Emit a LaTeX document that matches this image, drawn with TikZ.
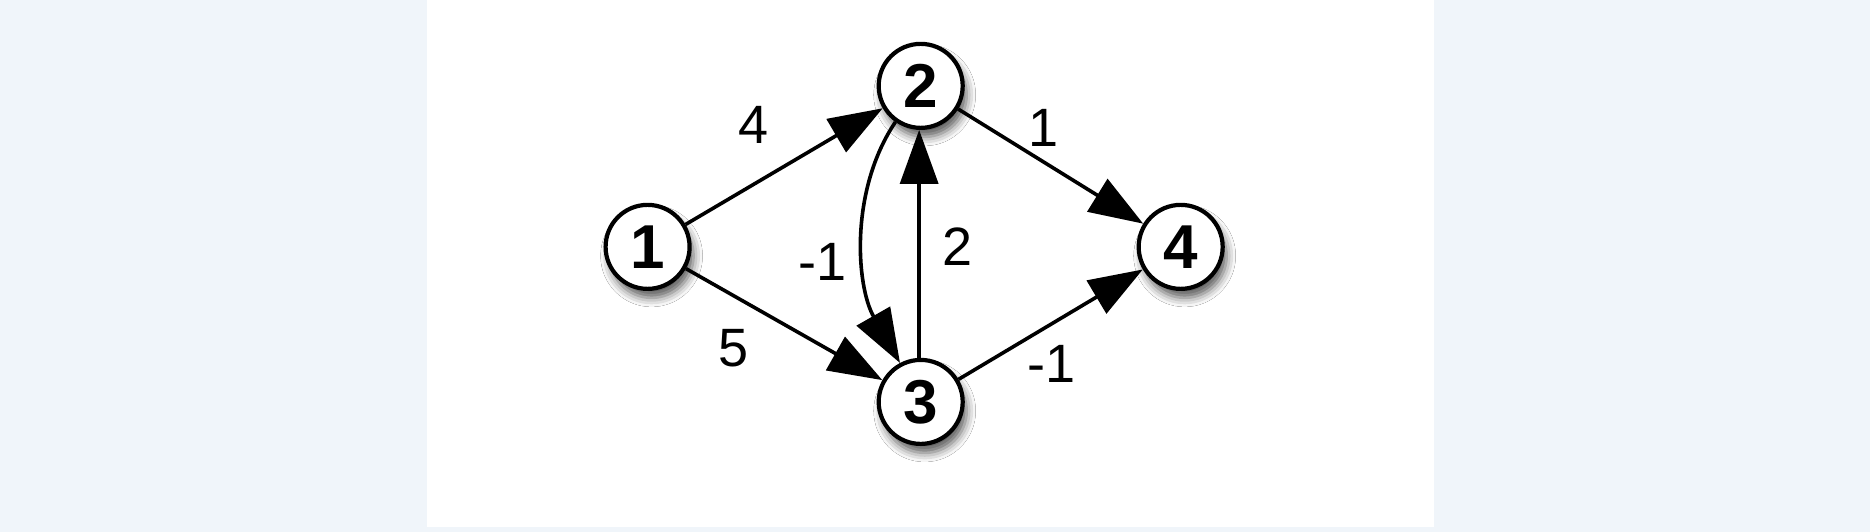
\documentclass[tikz,border=0pt]{standalone}
\usepackage{fontspec}
\setmainfont{Liberation Sans}
\usetikzlibrary{arrows.meta,shadows.blur}
\definecolor{bgblue}{HTML}{F0F5FA}
\begin{document}
\begin{tikzpicture}[x=1.1926pt,y=-1.1926pt,
  vert/.style={circle,draw,line width=4.2pt,fill=white,minimum size=84pt,inner sep=0pt,font=\fontsize{62}{64}\selectfont\bfseries,
    blur shadow={shadow xshift=4pt,shadow yshift=-9pt,shadow blur radius=9pt,shadow opacity=65}},
  edge/.style={line width=3.6pt,-{Triangle[length=54pt,width=38pt]}},
  lbl/.style={font=\fontsize{54}{56}\selectfont}]
\fill[bgblue] (0,0) rectangle (1568,446);
\fill[white] (358,0) rectangle (1202,442);
\useasboundingbox (0,0) rectangle (1568,446);
\node[vert] (n1) at (543,207) {1};
\node[vert] (n2) at (772,72) {2};
\node[vert] (n3) at (772,337) {3};
\node[vert] (n4) at (990,207) {4};
\draw[edge] (n1) -- (n2);
\draw[edge] (n1) -- (n3);
\draw[edge] (n2) -- (n4);
\draw[edge] (n3) -- (n4);
\draw[edge] (n3.92) -- (n2.268);
\draw[edge] (n2.235) .. controls (712,160) and (718,240) .. (n3.118);
\node[lbl] (l4) at (632,105) {4};
\node[lbl] (l5) at (615,292) {5};
\node[lbl] (l1) at (875,107) {1};
\node[lbl] (lm1) at (882,305) {-1};
\node[lbl] (lm2) at (690,220) {-1};
\node[lbl] (l2) at (803,207) {2};
\end{tikzpicture}
\end{document}
